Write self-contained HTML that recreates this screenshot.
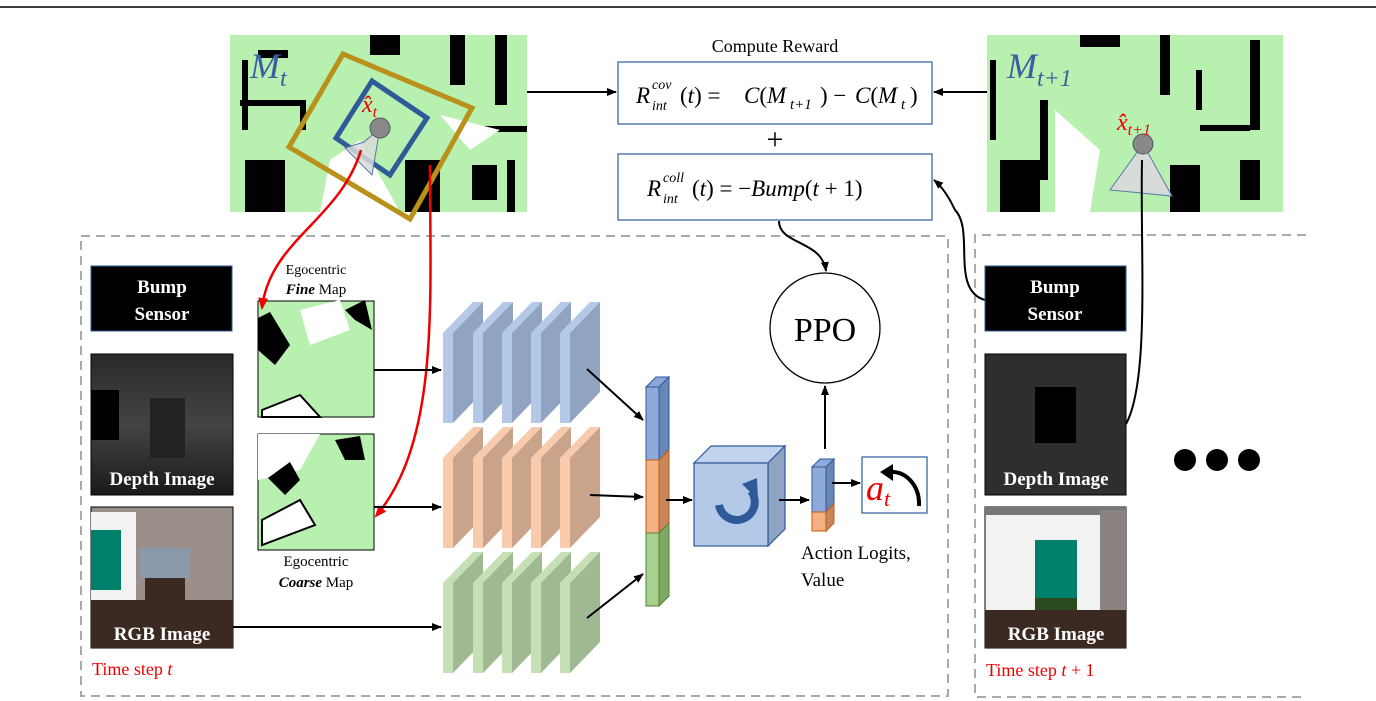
<!DOCTYPE html>
<html><head><meta charset="utf-8"><style>
body{margin:0;background:#fff}
svg{display:block}
text{font-family:"Liberation Serif",serif}
</style></head><body>
<svg width="1376" height="701" viewBox="0 0 1376 701" xmlns="http://www.w3.org/2000/svg">
<defs>
<marker id="ah" markerWidth="10" markerHeight="8" refX="9" refY="4" orient="auto" markerUnits="userSpaceOnUse"><path d="M0,0 L10,4 L0,8 z" fill="#000"/></marker>
<marker id="rh" markerWidth="12" markerHeight="10" refX="10" refY="5" orient="auto" markerUnits="userSpaceOnUse"><path d="M0,0 L12,5 L0,10 z" fill="#e00"/></marker>
<linearGradient id="dg" x1="0" y1="0" x2="0" y2="1"><stop offset="0" stop-color="#2a2a2a"/><stop offset="0.5" stop-color="#444"/><stop offset="1" stop-color="#1a1a1a"/></linearGradient>
</defs>
<line x1="0" y1="7" x2="1376" y2="7" stroke="#000" stroke-width="1.5"/>

<!-- Map Mt -->
<rect x="230" y="35" width="297" height="177" fill="#b8f0b0"/>
<g fill="#000">
<rect x="242" y="60" width="6" height="70"/><rect x="258" y="50" width="30" height="8"/><rect x="370" y="35" width="30" height="20"/><rect x="450" y="35" width="15" height="50"/><rect x="495" y="35" width="12" height="70"/><rect x="240" y="100" width="60" height="6"/><rect x="300" y="100" width="6" height="30"/>
<rect x="245" y="160" width="40" height="52"/><rect x="405" y="160" width="35" height="52"/><rect x="472" y="165" width="25" height="35"/><rect x="460" y="126" width="67" height="6"/><rect x="507" y="160" width="8" height="52"/>
</g>
<path d="M330,160 L360,140 L400,212 L320,212 Z" fill="#fff"/>
<path d="M440,115 L500,130 L470,150 Z" fill="#fff"/>
<text x="250" y="78" font-size="36" font-style="italic" fill="#3a5fa0">M<tspan font-size="24" dy="8">t</tspan></text>
<polygon points="343,54 472,108 410,219 289,147" fill="none" stroke="#b8901a" stroke-width="5"/>
<polygon points="372,81 427,118 390,175 336,138" fill="none" stroke="#2e5a9a" stroke-width="5"/>
<polygon points="380,128 364,142 345,148 372,175 380,128" fill="#d8dcd8" fill-opacity="0.85" stroke="#5577aa" stroke-width="1"/>
<circle cx="380" cy="128" r="10" fill="#888" stroke="#556" stroke-width="1"/>
<text x="362" y="112" font-size="24" font-style="italic" fill="#e00">x̂<tspan font-size="16" dy="5">t</tspan></text>

<!-- Map Mt+1 -->
<rect x="987" y="35" width="296" height="177" fill="#b8f0b0"/>
<g fill="#000">
<rect x="990" y="60" width="6" height="80"/><rect x="1080" y="35" width="40" height="12"/><rect x="1160" y="35" width="10" height="60"/><rect x="1250" y="40" width="10" height="90"/><rect x="1196" y="70" width="6" height="40"/><rect x="1200" y="125" width="50" height="6"/><rect x="1040" y="100" width="8" height="80"/>
<rect x="1000" y="160" width="40" height="52"/><rect x="1170" y="165" width="30" height="47"/><rect x="1240" y="160" width="20" height="40"/>
</g>
<path d="M1055,110 L1100,150 L1090,212 L1055,212 Z" fill="#fff"/>
<text x="1007" y="78" font-size="36" font-style="italic" fill="#3a5fa0">M<tspan font-size="24" dy="8">t+1</tspan></text>
<polygon points="1143,144 1110,190 1172,196" fill="#d8dcd8" stroke="#5577aa" stroke-width="1"/>
<circle cx="1143" cy="144" r="10" fill="#888" stroke="#556"/>
<text x="1117" y="130" font-size="24" font-style="italic" fill="#e00">x̂<tspan font-size="16" dy="5">t+1</tspan></text>

<!-- Reward -->
<text x="775" y="52" font-size="18" text-anchor="middle">Compute Reward</text>
<rect x="618" y="62" width="314" height="62" fill="#fff" stroke="#2e5a9a" stroke-width="1.2"/>
<g font-size="23">
<text x="636" y="103" font-style="italic">R</text>
<text x="652" y="89" font-size="14" font-style="italic">cov</text>
<text x="652" y="110" font-size="14" font-style="italic">int</text>
<text x="680" y="103">(<tspan font-style="italic">t</tspan>) =</text>
<text x="744" y="103"><tspan font-style="italic">C</tspan>(<tspan font-style="italic">M</tspan></text>
<text x="790" y="109" font-size="15" font-style="italic">t+1</text>
<text x="820" y="103">) −</text>
<text x="855" y="103"><tspan font-style="italic">C</tspan>(<tspan font-style="italic">M</tspan></text>
<text x="901" y="109" font-size="15" font-style="italic">t</tspan></text>
<text x="910" y="103">)</text>
</g>
<text x="775" y="149" font-size="30" text-anchor="middle">+</text>
<rect x="618" y="154" width="314" height="66" fill="#fff" stroke="#2e5a9a" stroke-width="1.2"/>
<g font-size="23">
<text x="647" y="196" font-style="italic">R</text>
<text x="663" y="182" font-size="14" font-style="italic">coll</text>
<text x="663" y="203" font-size="14" font-style="italic">int</text>
<text x="692" y="196">(<tspan font-style="italic">t</tspan>) = −<tspan font-style="italic">Bump</tspan>(<tspan font-style="italic">t</tspan> + 1)</text>
</g>
<line x1="527" y1="92" x2="616" y2="92" stroke="#000" stroke-width="2" marker-end="url(#ah)"/>
<line x1="987" y1="92" x2="934" y2="92" stroke="#000" stroke-width="2" marker-end="url(#ah)"/>

<!-- dashed boxes -->
<rect x="81" y="236" width="867" height="460" fill="none" stroke="#aaa" stroke-width="2" stroke-dasharray="9,6"/>
<path d="M1306,235 L975,235 L975,697 L1306,697" fill="none" stroke="#aaa" stroke-width="2" stroke-dasharray="9,6"/>

<!-- left inputs -->
<rect x="91" y="266" width="141" height="65" fill="#000" stroke="#2e5a9a"/>
<text x="162" y="293" font-size="19" font-weight="bold" fill="#fff" text-anchor="middle">Bump</text>
<text x="162" y="320" font-size="19" font-weight="bold" fill="#fff" text-anchor="middle">Sensor</text>
<rect x="91" y="354" width="142" height="141" fill="url(#dg)" stroke="#000"/>
<rect x="91" y="390" width="28" height="50" fill="#000"/>
<rect x="150" y="398" width="35" height="60" fill="#222"/>
<text x="162" y="485" font-size="19" font-weight="bold" fill="#fff" text-anchor="middle">Depth Image</text>
<rect x="91" y="507" width="142" height="141" fill="#9a8f8a" stroke="#000"/>
<rect x="91" y="512" width="45" height="90" fill="#f2f2f2"/>
<rect x="91" y="530" width="30" height="60" fill="#00806a"/>
<rect x="140" y="548" width="50" height="30" fill="#8a9aaa"/>
<rect x="145" y="578" width="40" height="40" fill="#3a2a22"/>
<rect x="91" y="600" width="142" height="48" fill="#3a2a22"/>
<text x="162" y="640" font-size="19" font-weight="bold" fill="#fff" text-anchor="middle">RGB Image</text>
<text x="92" y="675" font-size="18" fill="#e00">Time step <tspan font-style="italic">t</tspan></text>

<!-- ego maps -->
<text x="316" y="274" font-size="14" text-anchor="middle">Egocentric</text>
<text x="316" y="294" font-size="15" text-anchor="middle"><tspan font-weight="bold" font-style="italic">Fine</tspan> Map</text>
<rect x="258" y="301" width="116" height="116" fill="#b8f0b0" stroke="#000"/>
<path d="M300,310 L340,300 L350,330 L310,345 Z" fill="#fff"/>
<polygon points="258,318 270,312 290,345 275,365 258,350" fill="#000"/>
<polygon points="262,410 300,395 320,417 262,417" fill="#fff" stroke="#000" stroke-width="2"/>
<polygon points="345,310 365,300 372,330 355,320" fill="#000"/>
<text x="316" y="566" font-size="15" text-anchor="middle">Egocentric</text>
<text x="316" y="587" font-size="15" text-anchor="middle"><tspan font-weight="bold" font-style="italic">Coarse</tspan> Map</text>
<rect x="258" y="434" width="116" height="116" fill="#b8f0b0" stroke="#000"/>
<path d="M258,434 L320,434 L300,470 L258,480 Z" fill="#fff"/>
<polygon points="268,478 290,462 300,480 285,495" fill="#000"/>
<polygon points="335,440 360,436 365,460 345,460" fill="#000"/>
<polygon points="262,520 300,500 315,525 262,545" fill="#fff" stroke="#000" stroke-width="2"/>

<!-- red arrows -->
<path d="M361,150 C340,220 270,240 262,308" fill="none" stroke="#e00" stroke-width="2.5" marker-end="url(#rh)"/>
<path d="M430,165 C430,300 440,440 376,516" fill="none" stroke="#e00" stroke-width="2.5" marker-end="url(#rh)"/>

<!-- conv stacks -->
<g>
<g fill="#b4c8e8"><polygon points="443,333 473,302 483,302 453,333"/><rect x="443" y="333" width="10" height="90"/></g>
<polygon points="453,333 483,302 483,392 453,423" fill="#90a4c2"/>
<g fill="#b4c8e8"><polygon points="473,333 503,302 513,302 483,333"/><rect x="473" y="333" width="10" height="90"/></g>
<polygon points="483,333 513,302 513,392 483,423" fill="#90a4c2"/>
<g fill="#b4c8e8"><polygon points="502,333 532,302 542,302 512,333"/><rect x="502" y="333" width="10" height="90"/></g>
<polygon points="512,333 542,302 542,392 512,423" fill="#90a4c2"/>
<g fill="#b4c8e8"><polygon points="531,333 561,302 571,302 541,333"/><rect x="531" y="333" width="10" height="90"/></g>
<polygon points="541,333 571,302 571,392 541,423" fill="#90a4c2"/>
<g fill="#b4c8e8"><polygon points="560,333 590,302 600,302 570,333"/><rect x="560" y="333" width="10" height="90"/></g>
<polygon points="570,333 600,302 600,392 570,423" fill="#90a4c2"/>
<g fill="#f8cbad"><polygon points="443,458 473,427 483,427 453,458"/><rect x="443" y="458" width="10" height="90"/></g>
<polygon points="453,458 483,427 483,517 453,548" fill="#c9a38a"/>
<g fill="#f8cbad"><polygon points="473,458 503,427 513,427 483,458"/><rect x="473" y="458" width="10" height="90"/></g>
<polygon points="483,458 513,427 513,517 483,548" fill="#c9a38a"/>
<g fill="#f8cbad"><polygon points="502,458 532,427 542,427 512,458"/><rect x="502" y="458" width="10" height="90"/></g>
<polygon points="512,458 542,427 542,517 512,548" fill="#c9a38a"/>
<g fill="#f8cbad"><polygon points="531,458 561,427 571,427 541,458"/><rect x="531" y="458" width="10" height="90"/></g>
<polygon points="541,458 571,427 571,517 541,548" fill="#c9a38a"/>
<g fill="#f8cbad"><polygon points="560,458 590,427 600,427 570,458"/><rect x="560" y="458" width="10" height="90"/></g>
<polygon points="570,458 600,427 600,517 570,548" fill="#c9a38a"/>
<g fill="#c5e0b4"><polygon points="443,583 473,552 483,552 453,583"/><rect x="443" y="583" width="10" height="90"/></g>
<polygon points="453,583 483,552 483,642 453,673" fill="#9fb992"/>
<g fill="#c5e0b4"><polygon points="473,583 503,552 513,552 483,583"/><rect x="473" y="583" width="10" height="90"/></g>
<polygon points="483,583 513,552 513,642 483,673" fill="#9fb992"/>
<g fill="#c5e0b4"><polygon points="502,583 532,552 542,552 512,583"/><rect x="502" y="583" width="10" height="90"/></g>
<polygon points="512,583 542,552 542,642 512,673" fill="#9fb992"/>
<g fill="#c5e0b4"><polygon points="531,583 561,552 571,552 541,583"/><rect x="531" y="583" width="10" height="90"/></g>
<polygon points="541,583 571,552 571,642 541,673" fill="#9fb992"/>
<g fill="#c5e0b4"><polygon points="560,583 590,552 600,552 570,583"/><rect x="560" y="583" width="10" height="90"/></g>
<polygon points="570,583 600,552 600,642 570,673" fill="#9fb992"/>
</g>

<!-- input arrows -->
<line x1="374" y1="370" x2="441" y2="370" stroke="#000" stroke-width="2" marker-end="url(#ah)"/>
<line x1="374" y1="507" x2="441" y2="507" stroke="#000" stroke-width="2" marker-end="url(#ah)"/>
<line x1="233" y1="627" x2="441" y2="627" stroke="#000" stroke-width="2" marker-end="url(#ah)"/>
<line x1="587" y1="369" x2="643" y2="420" stroke="#000" stroke-width="2" marker-end="url(#ah)"/>
<line x1="590" y1="495" x2="643" y2="497" stroke="#000" stroke-width="2" marker-end="url(#ah)"/>
<line x1="587" y1="618" x2="643" y2="574" stroke="#000" stroke-width="2" marker-end="url(#ah)"/>

<!-- concat vector -->
<polygon points="646,387 656,377 669,377 659,387" fill="#8aa8d8" stroke="#2e5a9a"/>
<rect x="646" y="387" width="13" height="73" fill="#8eaadb" stroke="#2e5a9a"/>
<polygon points="659,387 669,377 669,450 659,460" fill="#6a86b4" stroke="#2e5a9a"/>
<rect x="646" y="460" width="13" height="73" fill="#f4b183" stroke="#c55a11"/>
<polygon points="659,460 669,450 669,523 659,533" fill="#c8875a" stroke="#c55a11"/>
<rect x="646" y="533" width="13" height="73" fill="#a9d18e" stroke="#548235"/>
<polygon points="659,533 669,523 669,596 659,606" fill="#7fa865" stroke="#548235"/>
<line x1="666" y1="500" x2="692" y2="500" stroke="#000" stroke-width="2" marker-end="url(#ah)"/>

<!-- cube -->
<polygon points="694,463 711,446 785,446 768,463" fill="#c2d3ee" stroke="#2e5a9a" stroke-width="1.2"/>
<polygon points="768,463 785,446 785,529 768,546" fill="#90a4c2" stroke="#2e5a9a" stroke-width="1.2"/>
<rect x="694" y="463" width="74" height="83" fill="#b4c8e8" stroke="#2e5a9a" stroke-width="1.2"/>
<path d="M719,505 A18,18 0 1 0 751,491" fill="none" stroke="#2e5a9a" stroke-width="8"/>
<polygon points="742,484 757,478 758,500" fill="#2e5a9a"/>
<line x1="779" y1="500" x2="809" y2="500" stroke="#000" stroke-width="2" marker-end="url(#ah)"/>

<!-- small vector -->
<polygon points="812,467 820,459 834,459 826,467" fill="#8eaadb" stroke="#2e5a9a"/>
<rect x="812" y="467" width="14" height="45" fill="#8eaadb" stroke="#2e5a9a"/>
<polygon points="826,467 834,459 834,504 826,512" fill="#6a86b4" stroke="#2e5a9a"/>
<rect x="812" y="512" width="14" height="19" fill="#f4b183" stroke="#c55a11"/>
<polygon points="826,512 834,504 834,523 826,531" fill="#c8875a" stroke="#c55a11"/>
<line x1="832" y1="483" x2="860" y2="483" stroke="#000" stroke-width="2" marker-end="url(#ah)"/>
<line x1="825" y1="449" x2="825" y2="386" stroke="#000" stroke-width="2" marker-end="url(#ah)"/>
<text x="801" y="559" font-size="19">Action Logits,</text>
<text x="801" y="586" font-size="19">Value</text>

<rect x="862" y="457" width="65" height="56" fill="#fff" stroke="#2e5a9a" stroke-width="1.2"/>
<text x="866" y="500" font-size="36" font-style="italic" fill="#e00" font-family="DejaVu Serif,serif">a<tspan font-size="22" dy="6">t</tspan></text>
<path d="M889,472 C905,470 920,485 919,506" fill="none" stroke="#000" stroke-width="4"/>
<polygon points="880,472 893,464 893,481" fill="#000"/>

<!-- PPO -->
<circle cx="825" cy="328" r="55" fill="#fff" stroke="#000" stroke-width="1.3"/>
<text x="825" y="341" font-size="34" text-anchor="middle">PPO</text>
<path d="M779,221 C779,245 822,240 826,271" fill="none" stroke="#000" stroke-width="2" marker-end="url(#ah)"/>

<!-- right inputs -->
<path d="M985,300 C950,290 975,230 955,210 C948,195 940,185 934,180" fill="none" stroke="#000" stroke-width="2" marker-end="url(#ah)"/>
<path d="M1126,424 C1150,380 1140,250 1142,160" fill="none" stroke="#000" stroke-width="2"/>
<rect x="985" y="266" width="141" height="65" fill="#000" stroke="#2e5a9a"/>
<text x="1055" y="293" font-size="19" font-weight="bold" fill="#fff" text-anchor="middle">Bump</text>
<text x="1055" y="320" font-size="19" font-weight="bold" fill="#fff" text-anchor="middle">Sensor</text>
<rect x="985" y="354" width="141" height="141" fill="#2e2e2e" stroke="#000"/>
<rect x="1035" y="387" width="41" height="56" fill="#000"/>
<text x="1056" y="485" font-size="19" font-weight="bold" fill="#fff" text-anchor="middle">Depth Image</text>
<rect x="985" y="507" width="141" height="141" fill="#f2f2f2" stroke="#000"/>
<rect x="985" y="507" width="141" height="8" fill="#777"/>
<rect x="1100" y="510" width="26" height="110" fill="#8a8380"/>
<rect x="1035" y="540" width="42" height="58" fill="#00806a"/>
<rect x="1035" y="598" width="42" height="12" fill="#2a4a20"/>
<rect x="985" y="610" width="141" height="38" fill="#3a2a22"/>
<text x="1056" y="640" font-size="19" font-weight="bold" fill="#fff" text-anchor="middle">RGB Image</text>
<text x="986" y="676" font-size="18" fill="#e00">Time step <tspan font-style="italic">t</tspan> + 1</text>

<circle cx="1185" cy="460" r="11" fill="#000"/>
<circle cx="1217" cy="460" r="11" fill="#000"/>
<circle cx="1249" cy="460" r="11" fill="#000"/>
</svg>
</body></html>
